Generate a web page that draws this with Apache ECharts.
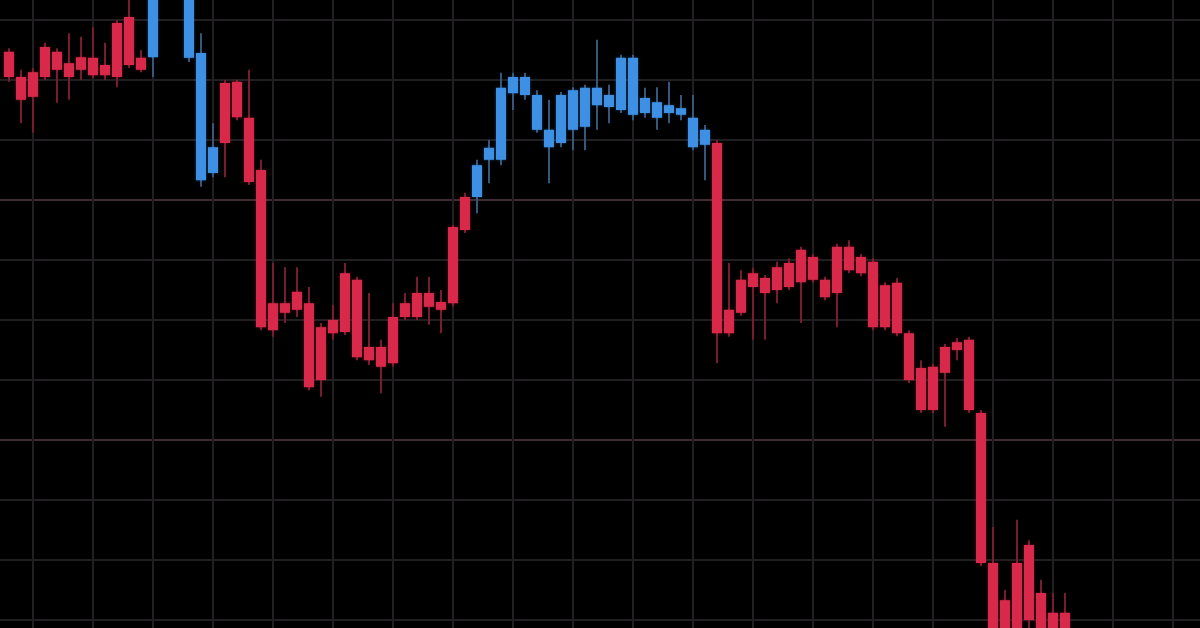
<!DOCTYPE html>
<html>
<head>
<meta charset="utf-8">
<script src="https://cdn.jsdelivr.net/npm/echarts@6/dist/echarts.min.js"></script>
<style>
  html, body { margin: 0; padding: 0; background: #000; overflow: hidden; }
  #chart { width: 1200px; height: 628px; filter: blur(0.7px); }
</style>
</head>
<body>
<div id="chart"></div>
<script>
// Session labels (hidden axis); 102 slots: one leading and several trailing empty slots
const categories = Array.from({ length: 102 }, (_, i) => 'S' + i);

const open = [
  104.7, 100.5, 97.2, 100.5, 104.7, 102.8, 101.7, 103.7, 100.8, 100.5,
  110.5, 101.7, 103.8, 117.5, 126.7, 115.8, 104.5, 84.5, 89.5, 99.7,
  93.7, 85.0, 58.3, 62.8, 61.7, 62.8, 50.0, 60.0, 58.0, 66.7,
  53.3, 55.5, 52.8, 60.5, 60.5, 64.5, 63.0, 62.8, 75.0, 80.5,
  86.7, 86.7, 97.8, 100.5, 97.5, 91.7, 89.5, 98.3, 92.2, 98.7,
  95.5, 95.0, 103.7, 94.5, 96.3, 94.5, 95.3, 93.7, 89.2, 89.5,
  57.8, 61.2, 67.8, 67.0, 65.0, 69.5, 66.3, 70.5, 66.7, 64.5,
  72.2, 67.8, 69.7, 58.8, 66.2, 57.8, 52.0, 45.0, 51.2, 55.0,
  56.7, 44.5, 19.5, 5.0, 5.0, 22.5, 5.0, 11.2, 5.0
];
const close = [
  100.5, 96.7, 101.3, 105.5, 101.7, 100.5, 103.8, 100.8, 102.5, 109.5,
  102.5, 103.7, 116.7, 128.3, 116.7, 103.7, 83.3, 88.8, 99.5, 93.8,
  83.0, 58.8, 62.8, 61.2, 64.7, 48.8, 58.8, 57.8, 67.8, 53.8,
  55.5, 52.2, 60.5, 62.8, 64.5, 62.2, 61.7, 75.5, 80.5, 85.8,
  88.7, 98.7, 100.5, 97.5, 91.7, 88.8, 97.5, 91.7, 98.7, 95.8,
  97.5, 103.7, 94.2, 97.0, 93.7, 95.8, 94.2, 88.8, 91.7, 57.8,
  61.7, 66.7, 65.5, 64.5, 68.8, 65.5, 71.7, 66.7, 63.8, 72.2,
  68.3, 70.5, 58.8, 65.8, 57.8, 50.0, 45.0, 52.2, 55.5, 56.3,
  45.0, 19.5, 5.8, 13.3, 19.5, 10.0, 14.5, 5.0, 11.2
];
const low = [
  99.7, 92.8, 91.2, 100.0, 96.2, 96.7, 100.0, 100.3, 100.0, 98.8,
  102.0, 101.3, 100.5, 115.0, 115.0, 103.0, 82.2, 83.8, 83.8, 93.3,
  82.5, 58.3, 57.2, 59.5, 60.5, 48.3, 47.2, 56.7, 57.5, 53.3,
  52.5, 47.8, 52.2, 60.0, 60.0, 59.2, 57.8, 62.3, 74.5, 77.8,
  82.8, 85.8, 95.0, 96.7, 91.2, 82.8, 88.8, 88.3, 88.3, 91.7,
  92.8, 94.5, 93.3, 93.7, 91.7, 92.8, 93.3, 88.3, 83.3, 52.8,
  57.2, 60.7, 56.7, 56.7, 62.8, 65.0, 59.5, 66.2, 63.3, 58.8,
  67.8, 67.3, 58.3, 58.3, 57.3, 49.5, 44.5, 44.5, 42.2, 53.3,
  44.5, 19.0, 5.0, 4.2, 4.2, 6.7, 4.2, 4.2, 4.2
];
const high = [
  105.3, 101.7, 102.0, 106.2, 105.3, 107.8, 107.2, 108.8, 106.2, 110.0,
  114.2, 105.0, 118.3, 130.0, 129.2, 117.5, 107.8, 92.8, 100.0, 100.0,
  101.7, 86.7, 69.5, 68.8, 68.8, 65.5, 59.5, 62.5, 69.5, 67.2,
  64.5, 56.7, 62.8, 64.5, 67.2, 67.2, 65.0, 75.8, 81.2, 86.7,
  90.0, 101.2, 101.2, 101.2, 98.3, 96.7, 98.0, 98.8, 99.2, 106.7,
  99.2, 104.2, 104.2, 98.7, 98.8, 99.7, 97.5, 97.5, 92.5, 90.0,
  69.5, 68.3, 68.7, 67.5, 69.7, 70.3, 72.2, 71.0, 67.2, 72.7,
  73.3, 71.0, 70.3, 66.3, 67.0, 58.3, 53.3, 52.7, 56.0, 57.0,
  57.2, 45.0, 25.5, 15.0, 26.7, 23.3, 16.7, 14.5, 14.5
];
// Candle index ranges (0-based, within the data arrays) drawn in blue; others red
const blueRanges = [[12, 17], [39, 58]];

const RED = '#d8294a', RED_WICK = '#7a1c30';
const BLUE = '#3d90e4', BLUE_WICK = '#35577e';
const GRID_MINOR = '#221f22', GRID_MAJOR = '#3e2d35';

const isBlue = (i) => blueRanges.some(([a, b]) => i >= a && i <= b);
// candle i sits on category slot i + 1 (slot 0 is a leading empty slot)
const seriesData = open.map((o, i) => [i + 1, o, close[i], low[i], high[i], i]);

const chart = echarts.init(document.getElementById('chart'), null, { renderer: 'canvas' });
chart.setOption({
  backgroundColor: '#000000',
  animation: false,
  grid: { left: -3, right: -9, top: -40, bottom: -52, containLabel: false, outerBoundsMode: 'none' },
  xAxis: {
    type: 'category',
    data: categories,
    boundaryGap: false,
    axisLine: { show: false },
    axisTick: { show: false },
    axisLabel: { show: false },
    splitLine: {
      show: true,
      interval: (index) => index % 5 === 3,
      lineStyle: { color: GRID_MINOR, width: 2 }
    }
  },
  yAxis: {
    type: 'value',
    min: 0,
    max: 120,
    interval: 10,
    axisLine: { show: false },
    axisTick: { show: false },
    axisLabel: { show: false },
    splitLine: {
      show: true,
      lineStyle: { color: [GRID_MAJOR, GRID_MINOR, GRID_MINOR, GRID_MINOR], width: 2 }
    }
  },
  series: [{
    type: 'custom',
    clip: false,
    data: seriesData,
    encode: { x: 0, y: [1, 2, 3, 4] },
    renderItem: function (params, api) {
      const slot = api.value(0);
      const o = api.value(1), c = api.value(2), l = api.value(3), h = api.value(4);
      const k = api.value(5);
      const pTop = api.coord([slot, Math.max(o, c)]);
      const pBot = api.coord([slot, Math.min(o, c)]);
      const pH = api.coord([slot, h]);
      const pL = api.coord([slot, l]);
      const blue = isBlue(k);
      const bodyW = 10;
      return {
        type: 'group',
        children: [
          {
            type: 'line',
            shape: { x1: pH[0], y1: pH[1], x2: pL[0], y2: pL[1] },
            style: { stroke: blue ? BLUE_WICK : RED_WICK, lineWidth: 2 }
          },
          {
            type: 'rect',
            shape: { x: pTop[0] - bodyW / 2, y: pTop[1], width: bodyW, height: Math.max(2, pBot[1] - pTop[1]) },
            style: { fill: blue ? BLUE : RED, shadowBlur: 3, shadowColor: blue ? 'rgba(61,144,228,0.5)' : 'rgba(216,41,74,0.5)' }
          }
        ]
      };
    }
  }]
});
</script>
</body>
</html>
